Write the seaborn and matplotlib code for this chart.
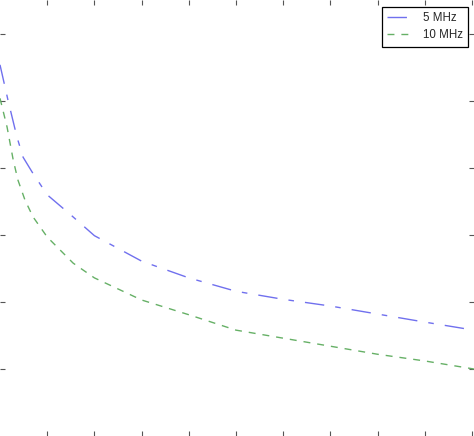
import pandas as pd
import numpy as np
import matplotlib.pyplot as plt
import seaborn as sns

sns.set_theme(style="white")
plt.rcParams['font.family'] = ['Liberation Sans', 'DejaVu Sans']

# --- dados (unidades arbitrárias, sem rótulos visíveis) ---
x_5mhz = [0, 0.17, 0.36, 0.49, 0.68, 1, 1.5, 2, 3, 4, 5, 6, 7, 8, 9, 10.04]
y_5mhz = [5.54, 5.01, 4.46, 4.16, 3.94, 3.60, 3.30, 2.99, 2.61, 2.36, 2.16, 2.04, 1.94, 1.82, 1.70, 1.58]

x_10mhz = [0, 0.15, 0.28, 0.38, 0.53, 0.70, 1, 1.55, 2, 3, 4, 5, 6, 7, 8, 9, 10.04]
y_10mhz = [5.04, 4.61, 4.12, 3.82, 3.52, 3.27, 2.97, 2.58, 2.36, 2.03, 1.81, 1.58, 1.46, 1.34, 1.22, 1.12, 1.0]

series_labels = ['5 MHz', '10 MHz']
x_ticks = [1, 2, 3, 4, 5, 6, 7, 8, 9, 10]
y_ticks = [1, 2, 3, 4, 5, 6]

df = pd.concat([
    pd.DataFrame({'x': x_5mhz, 'y': y_5mhz, 'serie': series_labels[0]}),
    pd.DataFrame({'x': x_10mhz, 'y': y_10mhz, 'serie': series_labels[1]}),
], ignore_index=True)

fig = plt.figure(figsize=(4.74, 4.36), dpi=100)
ax = fig.add_axes([0, 0, 1, 1])

palette = {'5 MHz': '#7070ee', '10 MHz': '#66b066'}
dashes = {'5 MHz': (14, 8, 4, 8), '10 MHz': (5, 5)}
sns.lineplot(data=df, x='x', y='y', hue='serie', style='serie',
             hue_order=series_labels, style_order=series_labels,
             palette=palette, dashes=dashes, sort=False, estimator=None,
             linewidth=1, legend=False, ax=ax)

ax.set_xlim(0, 474 / 47.2)
ax.set_ylim(0, 436 / 67)
ax.set_xticks(x_ticks)
ax.set_yticks(y_ticks)
ax.set_xlabel('')
ax.set_ylabel('')
ax.tick_params(direction='in', length=3.6, width=0.8, color='#555555',
               top=True, right=True, bottom=True, left=True,
               labelbottom=False, labelleft=False)
for s in ax.spines.values():
    s.set_visible(False)

leg = ax.legend(ax.get_lines()[:2], series_labels,
                loc='upper right', bbox_to_anchor=(468 / 474, 1 - 7 / 436),
                bbox_transform=fig.transFigure, borderaxespad=0,
                fancybox=False, framealpha=1, edgecolor='black',
                fontsize=8.3, handlelength=2.0, handletextpad=1.1,
                labelspacing=0.45, borderpad=0.45)
leg.get_frame().set_linewidth(0.9)

plt.savefig('out.png', dpi=100)
plt.close()
